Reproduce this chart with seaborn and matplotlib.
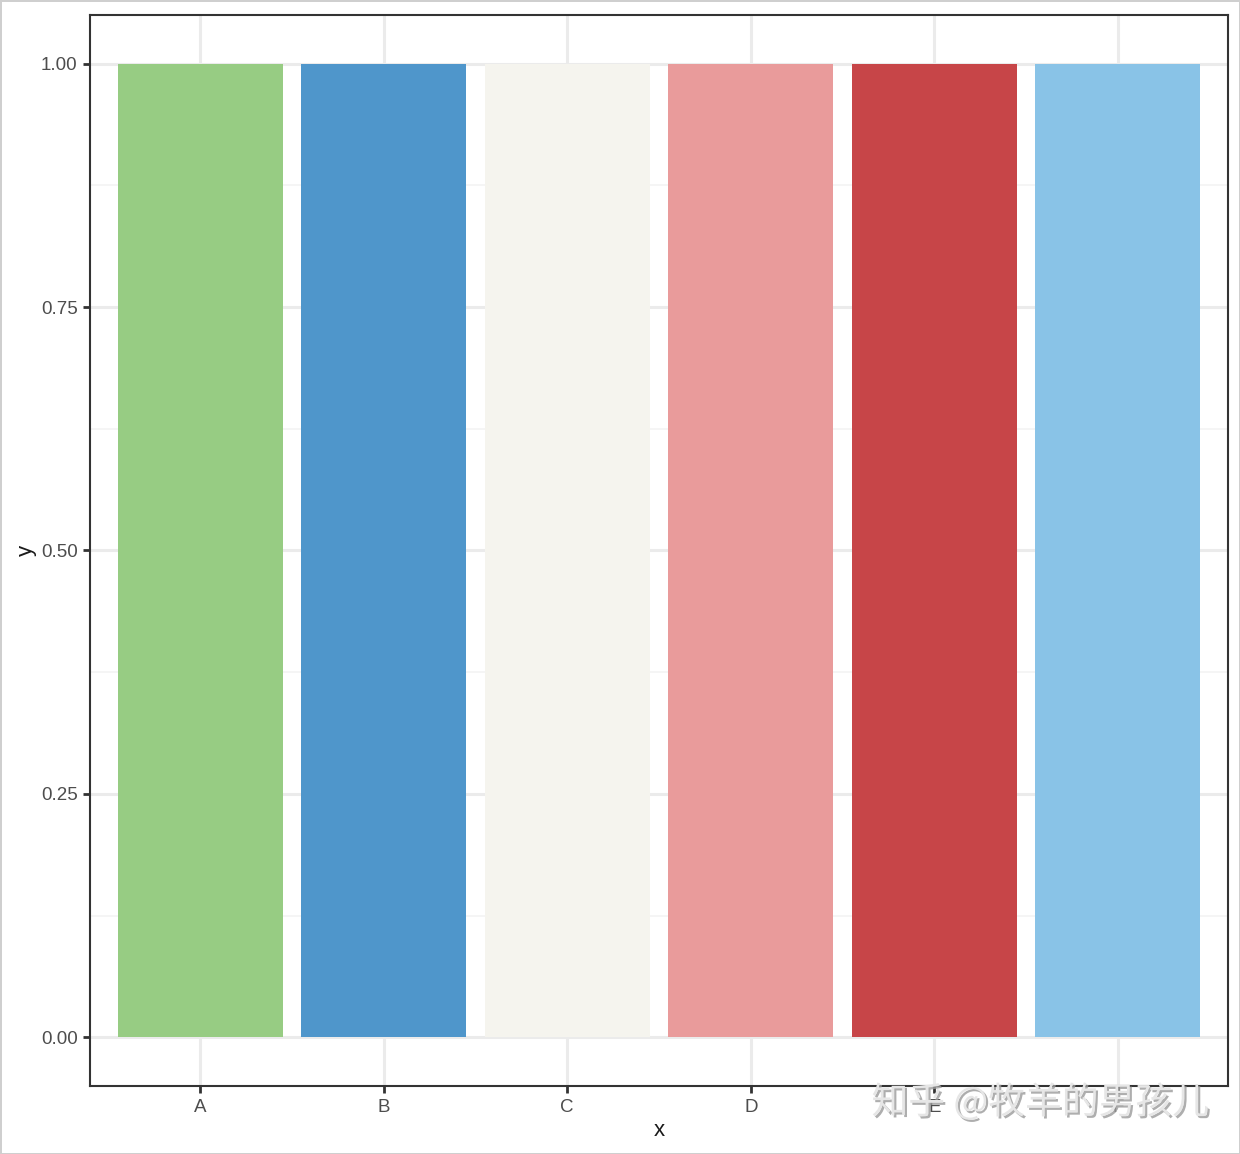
import matplotlib
matplotlib.use("Agg")
import matplotlib.pyplot as plt
import matplotlib.patheffects as pe
import seaborn as sns
import pandas as pd

categories = ["A", "B", "C", "D", "E", "F"]
values = [1, 1, 1, 1, 1, 1]
colors = ["#97CC83", "#4F96CB", "#F5F4EE", "#E99B9B", "#C74548", "#89C3E7"]
y_ticks = [0.00, 0.25, 0.50, 0.75, 1.00]
y_labels = ["0.00", "0.25", "0.50", "0.75", "1.00"]

df = pd.DataFrame({"x": categories, "y": values})

sns.set_style("white")
plt.rcParams["font.family"] = ["Liberation Sans", "DejaVu Sans"]

fig = plt.figure(figsize=(12.4, 11.54), dpi=100)
fig.patch.set_edgecolor("#cfcfcf")
fig.patch.set_linewidth(2)
ax = fig.add_axes([90 / 1240, 68 / 1154, 1138 / 1240, 1071 / 1154])

sns.barplot(data=df, x="x", y="y", hue="x", palette=dict(zip(categories, colors)),
            width=0.9, saturation=1, legend=False, ax=ax, linewidth=0, zorder=3)

ax.set_xlim(-0.6, 5.6)
ax.set_ylim(-0.05, 1.05)
ax.set_yticks(y_ticks)
ax.set_yticklabels(y_labels)
ax.set_yticks([0.125, 0.375, 0.625, 0.875], minor=True)

ax.grid(True, which="major", color="#EBEBEB", linewidth=2.2, zorder=0)
ax.grid(True, which="minor", axis="y", color="#F2F2F2", linewidth=1.1, zorder=0)
ax.set_axisbelow(True)

for s in ax.spines.values():
    s.set_visible(True)
    s.set_color("#333333")
    s.set_linewidth(1.5)

ax.tick_params(axis="both", which="major", length=5, width=2, color="#333333",
               labelsize=13.5, labelcolor="#4D4D4D", pad=4, left=True, bottom=True)
ax.tick_params(axis="both", which="minor", length=0)

ax.set_xlabel("x", fontsize=16, color="#1a1a1a", labelpad=3)
ax.set_ylabel("y", fontsize=16, color="#1a1a1a", labelpad=3)

fig.text(1040 / 1240, 1 - 1103 / 1154, "知乎 @牧羊的男孩儿",
         fontsize=26.5, color="#e6e6e6", ha="center", va="center",
         family=["Noto Sans CJK SC", "DejaVu Sans"], zorder=10,
         path_effects=[pe.withSimplePatchShadow(offset=(1.5, -1.5), shadow_rgbFace="#9a9a9a", alpha=0.8)])

fig.savefig("out.png", dpi=100)
